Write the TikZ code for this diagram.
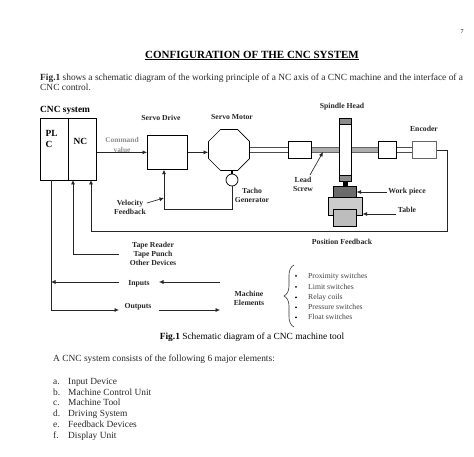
\documentclass[tikz,border=0pt]{standalone}
\usepackage{fontspec}
\setmainfont{Liberation Serif}
\usetikzlibrary{arrows.meta,shapes.geometric,decorations.pathreplacing,calc}
\definecolor{capgray}{gray}{0.55}
\definecolor{darkblock}{gray}{0.42}
\definecolor{tablegray}{gray}{0.80}
\definecolor{frontgray}{gray}{0.74}
\definecolor{screwgray}{gray}{0.68}
\tikzset{
  sz/.style 2 args={minimum width=#1pt,minimum height=#2pt},
  box/.style={draw=black,line width=0.7pt,fill=white,inner sep=0pt,anchor=north west},
  conn/.style={draw=black!85,line width=0.65pt},
  arr/.style={conn,-{Latex[length=4.5pt,width=4pt]}},
  lbl/.style={font=\fontsize{7.7}{9.2}\selectfont\bfseries,align=center,inner sep=0pt,text=black!85},
  body/.style={font=\fontsize{9.4}{11}\selectfont,anchor=base west,inner sep=0pt,text=black!85},
  sw/.style={font=\fontsize{7.7}{8}\selectfont,anchor=base west,inner sep=0pt,text=black!75},
  shaft/.style={draw=black!70,line width=0.5pt,fill=white,inner sep=0pt,anchor=north west},
  screw/.style={draw=black!60,line width=0.3pt,fill=screwgray,inner sep=0pt,anchor=north west},
  pill/.style={draw=black,line width=0.6pt,inner sep=0pt,anchor=north west}
}
\begin{document}
\begin{tikzpicture}[x=1pt,y=-1pt]
\useasboundingbox (0,0) rectangle (474,457);
% text
\node[font=\fontsize{6}{7}\selectfont,inner sep=0pt] (pg) at (462,32) {7};
\node[font=\fontsize{11}{12}\selectfont\bfseries,inner sep=0pt] (title) at (252,55) {CONFIGURATION OF THE CNC SYSTEM};
\draw[line width=0.6pt] ([yshift=-0.5pt]title.south west) -- ([yshift=-0.5pt]title.south east);
\node[body] (p1) at (40,80.5) {\textbf{Fig.1} shows a schematic diagram of the working principle of a NC axis of a CNC machine and the interface of a};
\node[body] (p2) at (40,91) {CNC control.};
\node[font=\fontsize{9.4}{11}\selectfont\bfseries,anchor=base west,inner sep=0pt] (cncs) at (40,112.5) {CNC system};
% shafts
\node[shaft,sz={40}{5}] (sh1) at (249,147) {};
\node[screw,sz={67}{5}] (sh2) at (311,147) {};
\node[shaft,sz={16}{5}] (sh3) at (396,147) {};
% controller
\node[box,sz={29}{62}] (plc) at (39.5,118) {};
\node[box,sz={28}{62}] (nc) at (68,118) {};
\node[lbl,font=\fontsize{9.4}{11}\selectfont\bfseries,align=left,anchor=north west,text=black] (plct) at (45.5,130) {PL\\C};
\node[lbl,font=\fontsize{9.4}{11}\selectfont\bfseries,text=black] (nct) at (80.5,141) {NC};
\node[box,sz={40}{34}] (drive) at (147,135) {};
\node[regular polygon,regular polygon sides=8,draw=black,line width=0.7pt,fill=white,inner sep=0pt,minimum size=44.4pt] (motor) at (229,150) {};
\node[circle,draw=black,line width=0.7pt,fill=white,inner sep=0pt,minimum size=12pt] (tacho) at (232,180) {};
\node[box,sz={23}{17}] (coup1) at (288,141) {};
\node[box,sz={18}{17}] (coup2) at (378,141) {};
\node[box,draw=black!60,sz={24}{17}] (enc) at (412,141) {};
% spindle
\node[box,sz={12}{63}] (spindle) at (339,118) {};
\node[pill,fill=capgray,sz={12}{6}] (capt) at (339,118) {};
\node[pill,fill=capgray,sz={12}{6}] (capb) at (339,175) {};
\node[pill,fill=black,sz={4}{5}] (stem) at (343,181) {};
\node[pill,fill=darkblock,sz={23}{11}] (work) at (333,186) {};
\node[pill,fill=tablegray,sz={34}{18}] (table) at (328,197) {};
\node[pill,fill=frontgray,sz={23}{17}] (front) at (333,209) {};
% tacho stem
\draw[line width=1.4pt] (motor.south -| tacho) -- (tacho.north);
% connectors
\node[lbl,font=\fontsize{7.4}{9.5}\selectfont\bfseries,text=black!45] (cmd) at (122,145) {Command\\value};
\draw[arr] (nc.east |- drive.west) -- (drive.west);
\draw[arr] (drive.east) -- (motor.west |- drive.east);
\coordinate (fb) at (164,209);
\draw[arr] (tacho.south) |- (fb) -- (fb |- drive.south);
\node[lbl] (vel) at (130,207) {Velocity\\Feedback};
\coordinate (velt) at (164,198);
\coordinate (vels) at (147,203);
\draw[arr] (vels) -- (velt);
\coordinate (pf) at (447,231);
\coordinate (pfl) at (91,231);
\coordinate (pfu) at (91,180);
\draw[arr] (enc.east) -- (enc.east -| pf) -- (pf) -- (pfl) -- (pfu);
\coordinate (tp) at (119,254);
\coordinate (tpl) at (73,254);
\coordinate (tpu) at (73,180);
\draw[arr] (tp) -- (tpl) -- (tpu);
\coordinate (io) at (51,310);
\coordinate (iot) at (51,180);
\coordinate (inl) at (119,282);
\coordinate (outr) at (119,310);
\draw[conn] (iot) -- (io);
\draw[arr] (inl) -- (inl -| io);
\draw[arr] (io) -- (outr);
\coordinate (mi) at (220,282);
\coordinate (mil) at (159,282);
\coordinate (mo) at (159,310);
\coordinate (mor) at (220,310);
\draw[arr] (mi) -- (mil);
\draw[arr] (mo) -- (mor);
% labels
\node[lbl] (l1) at (161,118) {Servo Drive};
\node[lbl] (l2) at (232,117) {Servo Motor};
\node[lbl] (l3) at (342,107) {Spindle Head};
\node[lbl] (l4) at (424,129) {Encoder};
\node[lbl] (l5) at (303,184) {Lead\\Screw};
\node[lbl] (l6) at (252,195.5) {Tacho\\Generator};
\node[lbl] (l7) at (407,192) {Work piece};
\node[lbl] (l8) at (407,210) {Table};
\node[lbl] (l9) at (342,241.5) {Position Feedback};
\node[lbl] (l10) at (153,254) {Tape Reader\\Tape Punch\\Other Devices};
\node[lbl] (l11) at (139,284) {Inputs};
\node[lbl] (l12) at (138,307) {Outputs};
\node[lbl] (l13) at (249,298) {Machine\\Elements};
\coordinate (lsa) at (310,175);
\coordinate (lsb) at (323,152);
\draw[arr] (lsa) -- (lsb);
\coordinate (wa) at (387,192);
\coordinate (ta) at (396,214);
\draw[arr] (wa) -- (wa -| work.east);
\draw[arr] (ta) -- (ta -| table.east);
% brace
\coordinate (bt) at (294,265);
\coordinate (bb) at (294,327);
\draw[line width=0.6pt,black!80,decorate,decoration={brace,amplitude=10pt,mirror,aspect=0.5}] (bt) -- (bb);
\foreach \yy/\st in {278/Proximity switches,289/Limit switches,299.5/Relay coils,309.5/Pressure switches,319.5/Float switches}{
  \fill (296,\yy-2.2) circle (1pt);
  \node[sw] at (308,\yy) {\st};
}
\node[font=\fontsize{9.4}{11}\selectfont,inner sep=0pt] (cap) at (252,337) {\textbf{Fig.1} Schematic diagram of a CNC machine tool};
\node[body] (b0) at (53,361.7) {A CNC system consists of the following 6 major elements:};
\foreach \yy/\aa/\st in {384.3/a./Input Device,395/b./Machine Control Unit,405.3/c./Machine Tool,416.7/d./Driving System,427/e./Feedback Devices,438.3/f./Display Unit}{
  \node[body] at (53,\yy) {\aa};
  \node[body] at (68,\yy) {\st};
}
\end{tikzpicture}
\end{document}
